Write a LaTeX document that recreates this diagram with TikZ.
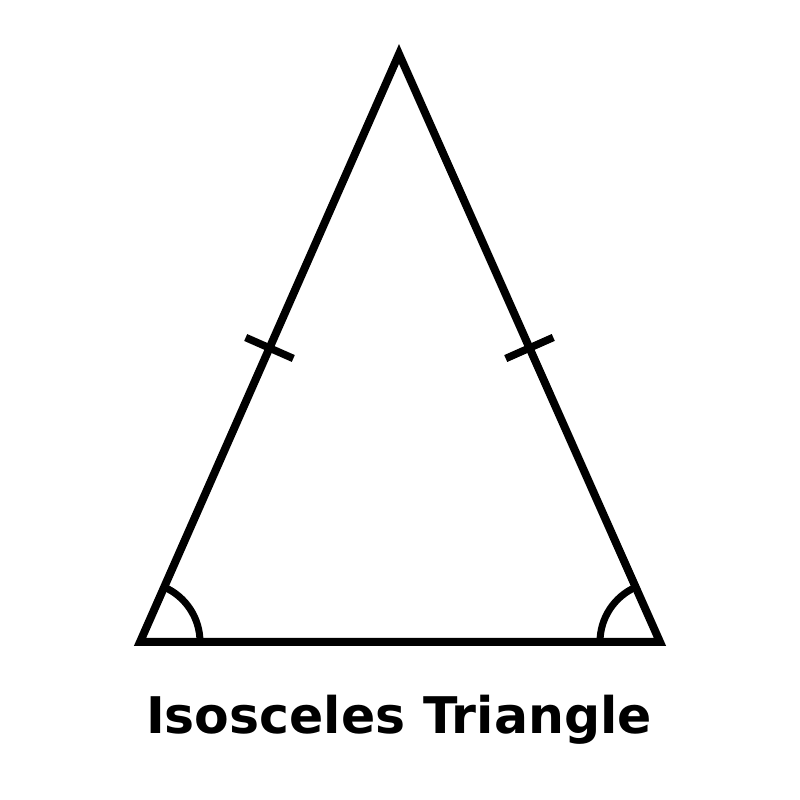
\documentclass[tikz,border=0pt]{standalone}
\usepackage{fontspec}
\setmainfont{DejaVu Sans}
\usetikzlibrary{calc}
\begin{document}
\begin{tikzpicture}[x=1pt,y=1pt,
  side/.style={line width=8pt, line join=miter, black},
  tick/.style={line width=7.5pt, black},
  anglearc/.style={line width=7pt, black},
  title/.style={font=\fontsize{50.5}{60}\selectfont\bfseries, anchor=base, inner sep=0pt}]
\useasboundingbox (0,0) rectangle (800,800);
\coordinate (A) at (399,746);
\coordinate (L) at (140,158);
\coordinate (R) at (660,158);
\draw[side] (L) -- (A) -- (R) -- cycle;
\coordinate (ML) at ($(L)!0.5!(A)$);
\coordinate (MR) at ($(R)!0.5!(A)$);
\draw[tick] ($(ML)!26pt!90:(A)$) -- ($(ML)!26pt!-90:(A)$);
\draw[tick] ($(MR)!26pt!90:(A)$) -- ($(MR)!26pt!-90:(A)$);
\draw[anglearc] ($(L)+(60,0)$) arc[start angle=0, end angle=66.2, radius=60];
\draw[anglearc] ($(R)+(-60,0)$) arc[start angle=180, end angle=113.8, radius=60];
\node[title] (t) at (399,66) {Isosceles Triangle};
\end{tikzpicture}
\end{document}
